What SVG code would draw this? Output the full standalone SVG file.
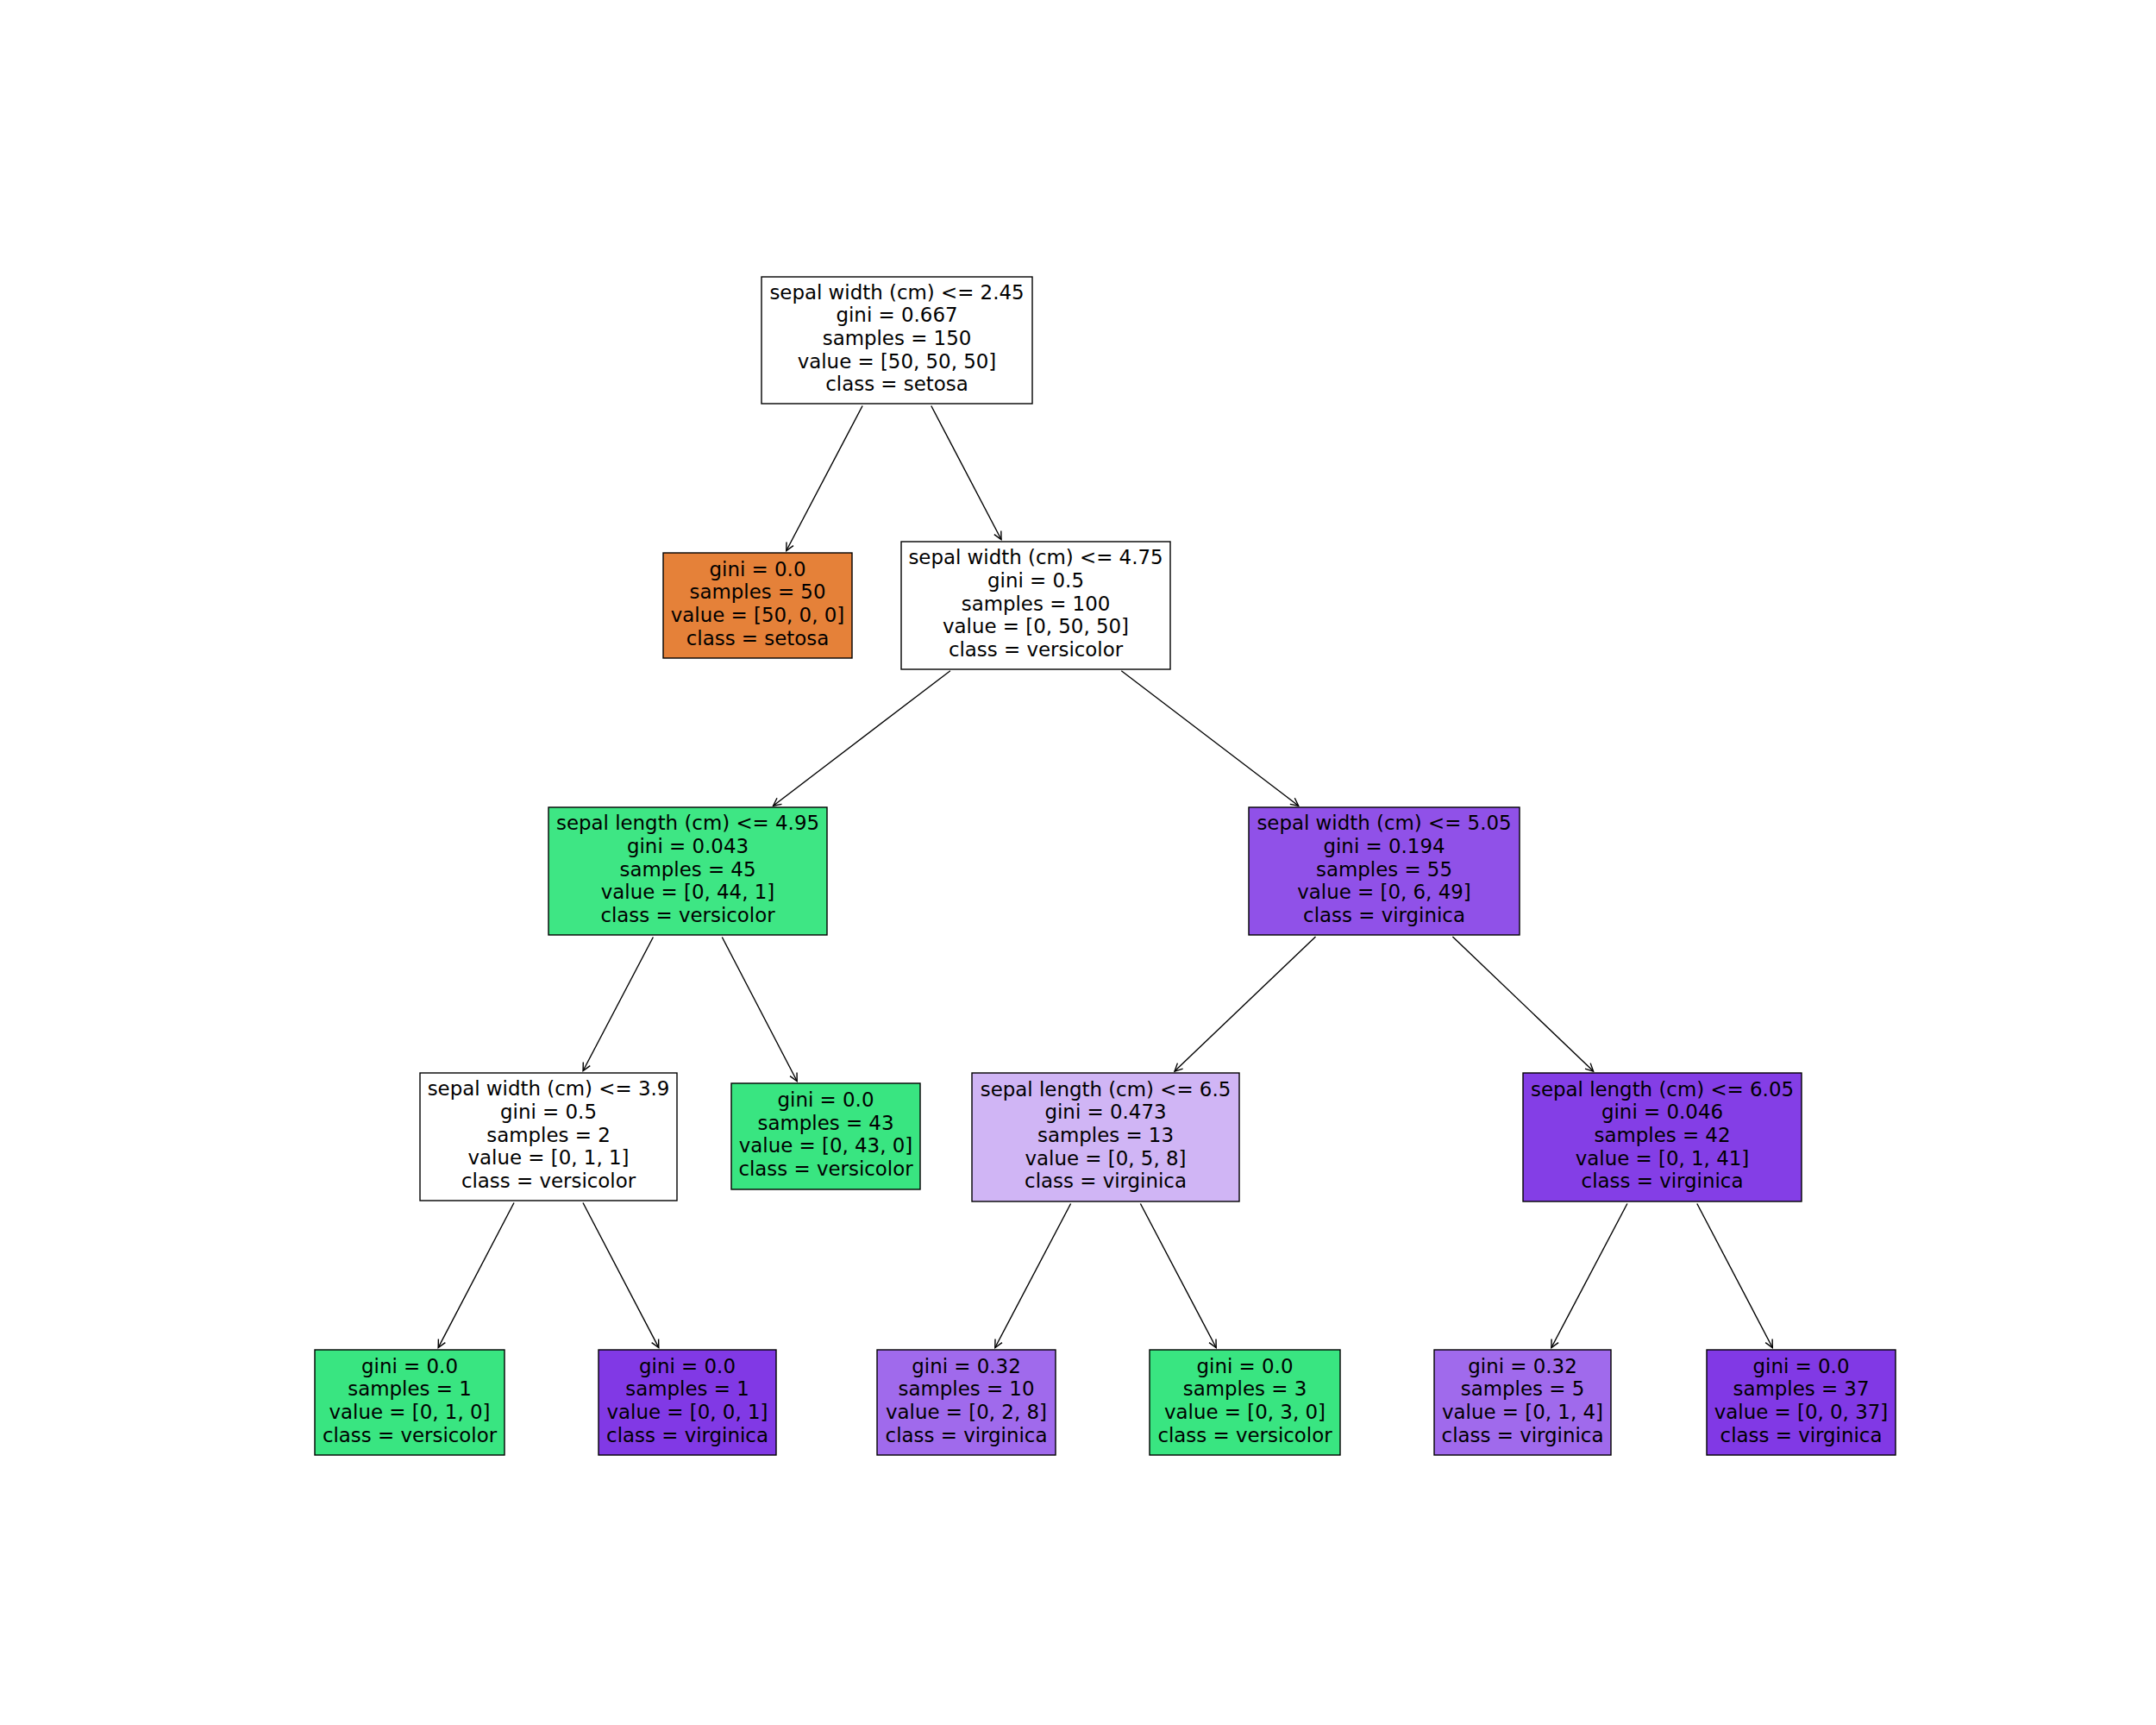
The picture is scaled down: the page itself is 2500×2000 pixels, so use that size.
<svg xmlns="http://www.w3.org/2000/svg" width="2500" height="2000" viewBox="0 0 2500 2000">
<defs>
<style>
.box{stroke:#000;stroke-width:1.4}
.t{font-family:"DejaVu Sans","Liberation Sans",sans-serif;font-size:22.9px;fill:#000;text-anchor:middle}
.e{stroke:#000;stroke-width:1.4;fill:none;marker-end:url(#ah)}
</style>
<marker id="ah" markerUnits="userSpaceOnUse" markerWidth="24" markerHeight="24" refX="12" refY="12" orient="auto" viewBox="0 0 24 24">
<path d="M3,7.5 L12,12 L3,16.5" fill="none" stroke="#000" stroke-width="1.4"/>
</marker>
</defs>
<rect width="2500" height="2000" fill="#fff"/>
<g id="connectors">
<line class="e" x1="1000.1" y1="470.5" x2="911.8" y2="638.5"/>
<line class="e" x1="1079.8" y1="470.5" x2="1161" y2="625.5"/>
<line class="e" x1="1101.9" y1="777.7" x2="896.6" y2="934.3"/>
<line class="e" x1="1300.3" y1="777.7" x2="1505.7" y2="934.3"/>
<line class="e" x1="757.4" y1="1086.5" x2="676.1" y2="1241.5"/>
<line class="e" x1="837.3" y1="1086.5" x2="924.2" y2="1253.5"/>
<line class="e" x1="1525.5" y1="1085.9" x2="1362" y2="1242.1"/>
<line class="e" x1="1684.4" y1="1085.9" x2="1847.6" y2="1242.1"/>
<line class="e" x1="596" y1="1394.5" x2="508.2" y2="1562.5"/>
<line class="e" x1="676" y1="1394.5" x2="763.8" y2="1562.5"/>
<line class="e" x1="1241.6" y1="1395.5" x2="1153.8" y2="1562.5"/>
<line class="e" x1="1322.4" y1="1395.5" x2="1410.2" y2="1562.5"/>
<line class="e" x1="1886.9" y1="1395.5" x2="1798.9" y2="1562.5"/>
<line class="e" x1="1967.8" y1="1395.5" x2="2055.3" y2="1562.5"/>
</g>
<g id="node0">
<rect class="box" x="883" y="321" width="314" height="147" fill="#ffffff"/>
<text class="t" x="1040" y="346.7">sepal width (cm) &lt;= 2.45</text>
<text class="t" x="1040" y="373.4">gini = 0.667</text>
<text class="t" x="1040" y="400">samples = 150</text>
<text class="t" x="1040" y="426.7">value = [50, 50, 50]</text>
<text class="t" x="1040" y="453.3">class = setosa</text>
</g>
<g id="node1">
<rect class="box" x="769" y="641" width="219" height="122" fill="#e58139"/>
<text class="t" x="878.5" y="667.5">gini = 0.0</text>
<text class="t" x="878.5" y="694.2">samples = 50</text>
<text class="t" x="878.5" y="720.8">value = [50, 0, 0]</text>
<text class="t" x="878.5" y="747.5">class = setosa</text>
</g>
<g id="node2">
<rect class="box" x="1045" y="628" width="312" height="148" fill="#ffffff"/>
<text class="t" x="1201" y="654.2">sepal width (cm) &lt;= 4.75</text>
<text class="t" x="1201" y="680.9">gini = 0.5</text>
<text class="t" x="1201" y="707.5">samples = 100</text>
<text class="t" x="1201" y="734.2">value = [0, 50, 50]</text>
<text class="t" x="1201" y="760.8">class = versicolor</text>
</g>
<g id="node3">
<rect class="box" x="636" y="936" width="323" height="148" fill="#3ee684"/>
<text class="t" x="797.5" y="962.2">sepal length (cm) &lt;= 4.95</text>
<text class="t" x="797.5" y="988.9">gini = 0.043</text>
<text class="t" x="797.5" y="1015.5">samples = 45</text>
<text class="t" x="797.5" y="1042.2">value = [0, 44, 1]</text>
<text class="t" x="797.5" y="1068.8">class = versicolor</text>
</g>
<g id="node4">
<rect class="box" x="1448" y="936" width="314" height="148" fill="#9051e8"/>
<text class="t" x="1605" y="962.2">sepal width (cm) &lt;= 5.05</text>
<text class="t" x="1605" y="988.9">gini = 0.194</text>
<text class="t" x="1605" y="1015.5">samples = 55</text>
<text class="t" x="1605" y="1042.2">value = [0, 6, 49]</text>
<text class="t" x="1605" y="1068.8">class = virginica</text>
</g>
<g id="node5">
<rect class="box" x="487" y="1244" width="298" height="148" fill="#ffffff"/>
<text class="t" x="636" y="1270.2">sepal width (cm) &lt;= 3.9</text>
<text class="t" x="636" y="1296.9">gini = 0.5</text>
<text class="t" x="636" y="1323.5">samples = 2</text>
<text class="t" x="636" y="1350.2">value = [0, 1, 1]</text>
<text class="t" x="636" y="1376.8">class = versicolor</text>
</g>
<g id="node6">
<rect class="box" x="848" y="1256" width="219" height="123" fill="#39e581"/>
<text class="t" x="957.5" y="1283">gini = 0.0</text>
<text class="t" x="957.5" y="1309.7">samples = 43</text>
<text class="t" x="957.5" y="1336.3">value = [0, 43, 0]</text>
<text class="t" x="957.5" y="1363">class = versicolor</text>
</g>
<g id="node7">
<rect class="box" x="1127" y="1244" width="310" height="149" fill="#d0b5f5"/>
<text class="t" x="1282" y="1270.7">sepal length (cm) &lt;= 6.5</text>
<text class="t" x="1282" y="1297.4">gini = 0.473</text>
<text class="t" x="1282" y="1324">samples = 13</text>
<text class="t" x="1282" y="1350.7">value = [0, 5, 8]</text>
<text class="t" x="1282" y="1377.3">class = virginica</text>
</g>
<g id="node8">
<rect class="box" x="1766" y="1244" width="323" height="149" fill="#843ee6"/>
<text class="t" x="1927.5" y="1270.7">sepal length (cm) &lt;= 6.05</text>
<text class="t" x="1927.5" y="1297.4">gini = 0.046</text>
<text class="t" x="1927.5" y="1324">samples = 42</text>
<text class="t" x="1927.5" y="1350.7">value = [0, 1, 41]</text>
<text class="t" x="1927.5" y="1377.3">class = virginica</text>
</g>
<g id="leaf1">
<rect class="box" x="365" y="1565" width="220" height="122" fill="#39e581"/>
<text class="t" x="475" y="1591.5">gini = 0.0</text>
<text class="t" x="475" y="1618.2">samples = 1</text>
<text class="t" x="475" y="1644.8">value = [0, 1, 0]</text>
<text class="t" x="475" y="1671.5">class = versicolor</text>
</g>
<g id="leaf2">
<rect class="box" x="694" y="1565" width="206" height="122" fill="#8139e5"/>
<text class="t" x="797" y="1591.5">gini = 0.0</text>
<text class="t" x="797" y="1618.2">samples = 1</text>
<text class="t" x="797" y="1644.8">value = [0, 0, 1]</text>
<text class="t" x="797" y="1671.5">class = virginica</text>
</g>
<g id="leaf3">
<rect class="box" x="1017" y="1565" width="207" height="122" fill="#a06aec"/>
<text class="t" x="1120.5" y="1591.5">gini = 0.32</text>
<text class="t" x="1120.5" y="1618.2">samples = 10</text>
<text class="t" x="1120.5" y="1644.8">value = [0, 2, 8]</text>
<text class="t" x="1120.5" y="1671.5">class = virginica</text>
</g>
<g id="leaf4">
<rect class="box" x="1333" y="1565" width="221" height="122" fill="#39e581"/>
<text class="t" x="1443.5" y="1591.5">gini = 0.0</text>
<text class="t" x="1443.5" y="1618.2">samples = 3</text>
<text class="t" x="1443.5" y="1644.8">value = [0, 3, 0]</text>
<text class="t" x="1443.5" y="1671.5">class = versicolor</text>
</g>
<g id="leaf5">
<rect class="box" x="1663" y="1565" width="205" height="122" fill="#a06aec"/>
<text class="t" x="1765.5" y="1591.5">gini = 0.32</text>
<text class="t" x="1765.5" y="1618.2">samples = 5</text>
<text class="t" x="1765.5" y="1644.8">value = [0, 1, 4]</text>
<text class="t" x="1765.5" y="1671.5">class = virginica</text>
</g>
<g id="leaf6">
<rect class="box" x="1979" y="1565" width="219" height="122" fill="#8139e5"/>
<text class="t" x="2088.5" y="1591.5">gini = 0.0</text>
<text class="t" x="2088.5" y="1618.2">samples = 37</text>
<text class="t" x="2088.5" y="1644.8">value = [0, 0, 37]</text>
<text class="t" x="2088.5" y="1671.5">class = virginica</text>
</g>
</svg>
